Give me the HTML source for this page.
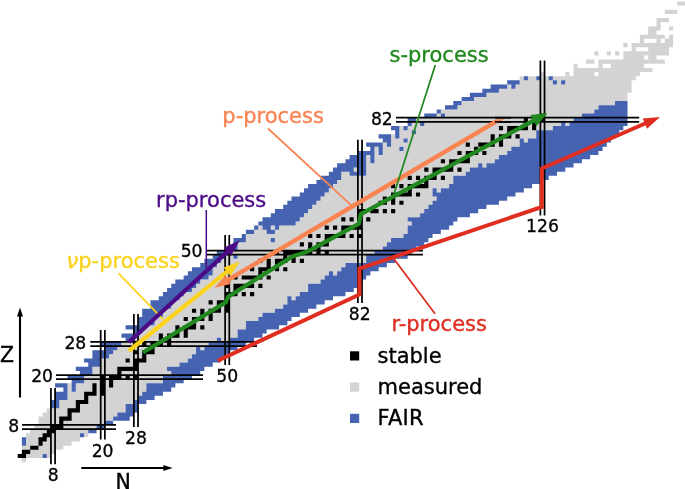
<!DOCTYPE html>
<html lang="en"><head><meta charset="utf-8"><title>Nuclide chart: nucleosynthesis processes</title>
<style>html,body{margin:0;padding:0;background:#fff}body{width:685px;height:489px;overflow:hidden}svg{display:block}text{font-family:"DejaVu Sans","Liberation Sans",sans-serif;}</style></head><body>
<svg width="685" height="489" viewBox="0 0 685 489">
<rect width="685" height="489" fill="#fff"/>
<g id="chart">
<path fill="#d3d3d3" d="M21.89 458.08H26.04V462.23H21.89ZM17.74 453.93H42.63V458.08H17.74ZM46.78 453.93H50.92V458.08H46.78ZM21.89 449.78H55.07V453.93H21.89ZM21.89 445.63H63.37V449.78H21.89ZM26.04 441.48H71.66V445.63H26.04ZM26.04 437.32H79.96V441.48H26.04ZM26.04 433.17H79.96V437.32H26.04ZM84.11 433.17H88.26V437.32H84.11ZM30.18 429.02H88.26V433.17H30.18ZM34.33 424.87H96.55V429.02H34.33ZM38.48 420.72H104.85V424.87H38.48ZM38.48 416.57H113.14V420.72H38.48ZM42.63 412.42H117.29V416.57H42.63ZM46.78 408.27H125.59V412.42H46.78ZM59.22 404.12H125.59V408.27H59.22ZM59.22 399.97H133.88V404.12H59.22ZM67.52 395.81H138.03V399.97H67.52ZM67.52 391.66H142.18V395.81H67.52ZM67.52 387.51H71.66V391.66H67.52ZM75.81 387.51H146.33V391.66H75.81ZM67.52 383.36H71.66V387.51H67.52ZM75.81 383.36H146.33V387.51H75.81ZM84.11 379.21H162.92V383.36H84.11ZM84.11 375.06H162.92V379.21H84.11ZM92.4 370.91H171.22V375.06H92.4ZM92.4 366.76H167.07V370.91H92.4ZM100.7 362.61H179.51V366.76H100.7ZM100.7 358.46H187.81V362.61H100.7ZM109 354.31H191.96V358.46H109ZM113.14 350.15H196.1V354.31H113.14ZM117.29 346H196.1V350.15H117.29ZM200.25 346H204.4V350.15H200.25ZM121.44 341.85H208.55V346H121.44ZM133.88 337.7H216.84V341.85H133.88ZM220.99 337.7H229.29V341.85H220.99ZM133.88 333.55H237.58V337.7H133.88ZM142.18 329.4H237.58V333.55H142.18ZM146.33 325.25H245.88V329.4H146.33ZM154.62 321.1H245.88V325.25H154.62ZM154.62 316.95H258.32V321.1H154.62ZM162.92 312.79H262.47V316.95H162.92ZM162.92 308.64H274.92V312.8H162.92ZM171.22 304.49H283.21V308.64H171.22ZM171.22 300.34H287.36V304.49H171.22ZM179.51 296.19H287.36V300.34H179.51ZM291.51 296.19H295.66V300.34H291.51ZM183.66 292.04H299.8V296.19H183.66ZM191.96 287.89H308.1V292.04H191.96ZM196.1 283.74H308.1V287.89H196.1ZM200.25 279.59H320.54V283.74H200.25ZM208.55 275.44H324.69V279.59H208.55ZM212.7 271.28H328.84V275.44H212.7ZM332.99 271.28H337.14V275.44H332.99ZM212.7 267.13H341.28V271.29H212.7ZM216.84 262.98H345.43V267.13H216.84ZM220.99 258.83H366.17V262.98H220.99ZM225.14 254.68H233.44V258.83H225.14ZM237.58 254.68H366.17V258.83H237.58ZM225.14 250.53H374.47V254.68H225.14ZM237.58 246.38H382.76V250.53H237.58ZM237.58 242.23H386.91V246.38H237.58ZM245.88 238.08H270.77V242.23H245.88ZM274.92 238.08H391.06V242.23H274.92ZM245.88 233.93H403.5V238.08H245.88ZM254.18 229.78H266.62V233.93H254.18ZM274.92 229.78H407.65V233.93H274.92ZM258.32 225.62H262.47V229.78H258.32ZM270.77 225.62H274.92V229.78H270.77ZM279.06 225.62H407.65V229.78H279.06ZM295.66 221.47H411.8V225.62H295.66ZM299.8 217.32H407.65V221.47H299.8ZM303.95 213.17H420.1V217.32H303.95ZM308.1 209.02H424.24V213.17H308.1ZM312.25 204.87H428.39V209.02H312.25ZM316.4 200.72H432.54V204.87H316.4ZM320.54 196.57H436.69V200.72H320.54ZM324.69 192.42H432.54V196.57H324.69ZM328.84 188.26H432.54V192.42H328.84ZM436.69 188.26H440.84V192.42H436.69ZM332.99 184.11H449.13V188.26H332.99ZM337.14 179.96H453.28V184.11H337.14ZM341.28 175.81H453.28V179.96H341.28ZM341.28 171.66H349.58V175.81H341.28ZM366.17 171.66H465.72V175.81H366.17ZM353.73 167.51H357.88V171.66H353.73ZM366.17 167.51H469.87V171.66H366.17ZM366.17 163.36H478.17V167.51H366.17ZM482.32 163.36H486.46V167.51H482.32ZM366.17 159.21H370.32V163.36H366.17ZM374.47 159.21H494.76V163.36H374.47ZM366.17 155.06H370.32V159.21H366.17ZM374.47 155.06H498.91V159.21H374.47ZM374.47 150.91H378.62V155.06H374.47ZM382.76 150.91H507.2V155.06H382.76ZM374.47 146.75H378.62V150.91H374.47ZM382.76 146.75H399.36V150.91H382.76ZM403.5 146.75H511.35V150.91H403.5ZM382.76 142.6H386.91V146.75H382.76ZM391.06 142.6H519.65V146.75H391.06ZM391.06 138.45H403.5V142.6H391.06ZM407.65 138.45H519.65V142.6H407.65ZM523.8 138.45H527.94V142.6H523.8ZM391.06 134.3H395.21V138.45H391.06ZM399.36 134.3H536.24V138.45H399.36ZM399.36 130.15H411.8V134.3H399.36ZM415.95 130.15H536.24V134.3H415.95ZM399.36 126H403.5V130.15H399.36ZM407.65 126H552.83V130.15H407.65ZM411.8 121.85H420.1V126H411.8ZM424.24 121.85H561.13V126H424.24ZM565.28 121.85H569.42V126H565.28ZM415.95 117.7H573.57V121.85H415.95ZM436.69 113.55H440.84V117.7H436.69ZM444.98 113.55H581.87V117.7H444.98ZM440.84 109.4H594.31V113.55H440.84ZM457.43 105.25H598.46V109.4H457.43ZM461.58 101.09H615.05V105.24H461.58ZM474.02 96.94H627.5V101.09H474.02ZM486.46 92.79H627.5V96.94H486.46ZM498.91 88.64H631.64V92.79H498.91ZM507.2 84.49H511.35V88.64H507.2ZM515.5 84.49H631.64V88.64H515.5ZM519.65 80.34H552.83V84.49H519.65ZM556.98 80.34H561.13V84.49H556.98ZM565.28 80.34H631.64V84.49H565.28ZM519.65 76.19H523.8V80.34H519.65ZM527.94 76.19H536.24V80.34H527.94ZM540.39 76.19H548.68V80.34H540.39ZM552.83 76.19H635.79V80.34H552.83ZM540.39 72.04H544.54V76.19H540.39ZM565.28 72.04H569.42V76.19H565.28ZM573.57 72.04H594.31V76.19H573.57ZM598.46 72.04H639.94V76.19H598.46ZM573.57 67.89H652.38V72.04H573.57ZM573.57 63.74H577.72V67.89H573.57ZM598.46 63.74H602.61V67.89H598.46ZM610.9 63.74H644.09V67.89H610.9ZM586.02 59.58H594.31V63.73H586.02ZM598.46 59.58H664.83V63.73H598.46ZM623.35 55.43H644.09V59.58H623.35ZM648.24 55.43H656.53V59.58H648.24ZM594.31 51.28H598.46V55.43H594.31ZM606.76 51.28H610.9V55.43H606.76ZM615.05 51.28H619.2V55.43H615.05ZM623.35 51.28H668.98V55.43H623.35ZM631.64 47.13H635.79V51.28H631.64ZM648.24 47.13H668.98V51.28H648.24ZM623.35 42.98H627.5V47.13H623.35ZM631.64 42.98H673.12V47.13H631.64ZM639.94 38.83H644.09V42.98H639.94ZM656.53 38.83H660.68V42.98H656.53ZM664.83 38.83H673.12V42.98H664.83ZM639.94 34.68H664.83V38.83H639.94ZM668.98 34.68H673.12V38.83H668.98ZM648.24 30.53H656.53V34.68H648.24ZM648.24 26.38H660.68V30.53H648.24ZM668.98 26.38H673.12V30.53H668.98ZM656.53 22.23H660.68V26.38H656.53ZM656.53 18.07H668.98V22.23H656.53ZM664.83 9.77H677.27V13.92H664.83ZM677.27 1.47H685.57V5.62H677.27Z"/>
<path fill="#4563b0" d="M42.63 453.93H46.78V458.08H42.63ZM21.89 441.48H26.04V445.63H21.89ZM21.89 437.32H26.04V441.48H21.89ZM79.96 433.17H84.11V437.32H79.96ZM88.26 429.02H96.55V433.17H88.26ZM96.55 424.87H104.85V429.02H96.55ZM104.85 420.72H113.14V424.87H104.85ZM113.14 416.57H129.74V420.72H113.14ZM117.29 412.42H133.88V416.57H117.29ZM125.59 408.27H138.03V412.42H125.59ZM50.92 404.12H59.22V408.27H50.92ZM125.59 404.12H138.03V408.27H125.59ZM50.92 399.97H59.22V404.12H50.92ZM133.88 399.97H146.33V404.12H133.88ZM55.07 395.81H67.52V399.97H55.07ZM138.03 395.81H154.62V399.97H138.03ZM55.07 391.66H67.52V395.81H55.07ZM142.18 391.66H162.92V395.81H142.18ZM63.37 387.51H67.52V391.66H63.37ZM71.66 387.51H75.81V391.66H71.66ZM146.33 387.51H171.22V391.66H146.33ZM55.07 383.36H67.52V387.51H55.07ZM71.66 383.36H75.81V387.51H71.66ZM146.33 383.36H175.36V387.51H146.33ZM71.66 379.21H84.11V383.36H71.66ZM162.92 379.21H183.66V383.36H162.92ZM67.52 375.06H84.11V379.21H67.52ZM162.92 375.06H191.96V379.21H162.92ZM79.96 370.91H92.4V375.06H79.96ZM171.22 370.91H200.25V375.06H171.22ZM75.81 366.76H92.4V370.91H75.81ZM167.07 366.76H204.4V370.91H167.07ZM88.26 362.61H100.7V366.76H88.26ZM179.51 362.61H212.7V366.76H179.51ZM84.11 358.46H100.7V362.61H84.11ZM187.81 358.46H220.99V362.61H187.81ZM92.4 354.31H109V358.46H92.4ZM191.96 354.31H225.14V358.46H191.96ZM92.4 350.15H113.14V354.31H92.4ZM196.1 350.15H229.29V354.31H196.1ZM104.85 346H117.29V350.15H104.85ZM196.1 346H200.25V350.15H196.1ZM204.4 346H237.58V350.15H204.4ZM100.7 341.85H121.44V346H100.7ZM208.55 341.85H245.88V346H208.55ZM125.59 337.7H133.88V341.85H125.59ZM216.84 337.7H220.99V341.85H216.84ZM229.29 337.7H254.18V341.85H229.29ZM121.44 333.55H133.88V337.7H121.44ZM237.58 333.55H262.47V337.7H237.58ZM133.88 329.4H142.18V333.55H133.88ZM237.58 329.4H266.62V333.55H237.58ZM125.59 325.25H146.33V329.4H125.59ZM245.88 325.25H279.06V329.4H245.88ZM138.03 321.1H154.62V325.25H138.03ZM245.88 321.1H287.36V325.25H245.88ZM138.03 316.95H154.62V321.1H138.03ZM258.32 316.95H291.51V321.1H258.32ZM142.18 312.79H162.92V316.95H142.18ZM262.47 312.79H299.8V316.95H262.47ZM142.18 308.64H162.92V312.8H142.18ZM274.92 308.64H308.1V312.8H274.92ZM150.48 304.49H171.22V308.64H150.48ZM283.21 304.49H316.4V308.64H283.21ZM150.48 300.34H171.22V304.49H150.48ZM287.36 300.34H324.69V304.49H287.36ZM158.77 296.19H179.51V300.34H158.77ZM287.36 296.19H291.51V300.34H287.36ZM295.66 296.19H332.99V300.34H295.66ZM162.92 292.04H183.66V296.19H162.92ZM299.8 292.04H345.43V296.19H299.8ZM167.07 287.89H191.96V292.04H167.07ZM308.1 287.89H353.73V292.04H308.1ZM171.22 283.74H196.1V287.89H171.22ZM308.1 283.74H357.88V287.89H308.1ZM175.36 279.59H200.25V283.74H175.36ZM320.54 279.59H362.02V283.74H320.54ZM183.66 275.44H208.55V279.59H183.66ZM324.69 275.44H366.17V279.59H324.69ZM187.81 271.28H212.7V275.44H187.81ZM328.84 271.28H332.99V275.44H328.84ZM337.14 271.28H370.32V275.44H337.14ZM191.96 267.13H212.7V271.29H191.96ZM341.28 267.13H378.62V271.29H341.28ZM200.25 262.98H216.84V267.13H200.25ZM345.43 262.98H386.91V267.13H345.43ZM204.4 258.83H220.99V262.98H204.4ZM366.17 258.83H395.21V262.98H366.17ZM212.7 254.68H225.14V258.83H212.7ZM233.44 254.68H237.58V258.83H233.44ZM366.17 254.68H407.65V258.83H366.17ZM216.84 250.53H225.14V254.68H216.84ZM374.47 250.53H411.8V254.68H374.47ZM229.29 246.38H237.58V250.53H229.29ZM382.76 246.38H415.95V250.53H382.76ZM233.44 242.23H237.58V246.38H233.44ZM386.91 242.23H424.24V246.38H386.91ZM233.44 238.08H245.88V242.23H233.44ZM270.77 238.08H274.92V242.23H270.77ZM391.06 238.08H428.39V242.23H391.06ZM241.73 233.93H245.88V238.08H241.73ZM403.5 233.93H432.54V238.08H403.5ZM245.88 229.78H254.18V233.93H245.88ZM266.62 229.78H274.92V233.93H266.62ZM407.65 229.78H440.84V233.93H407.65ZM254.18 225.62H258.32V229.78H254.18ZM262.47 225.62H270.77V229.78H262.47ZM274.92 225.62H279.06V229.78H274.92ZM407.65 225.62H449.13V229.78H407.65ZM258.32 221.47H295.66V225.62H258.32ZM411.8 221.47H453.28V225.62H411.8ZM262.47 217.32H299.8V221.47H262.47ZM407.65 217.32H457.43V221.47H407.65ZM270.77 213.17H303.95V217.32H270.77ZM420.1 213.17H469.87V217.32H420.1ZM274.92 209.02H308.1V213.17H274.92ZM424.24 209.02H478.17V213.17H424.24ZM283.21 204.87H312.25V209.02H283.21ZM428.39 204.87H486.46V209.02H428.39ZM287.36 200.72H316.4V204.87H287.36ZM432.54 200.72H498.91V204.87H432.54ZM291.51 196.57H320.54V200.72H291.51ZM436.69 196.57H507.2V200.72H436.69ZM299.8 192.42H324.69V196.57H299.8ZM432.54 192.42H515.5V196.57H432.54ZM303.95 188.26H328.84V192.42H303.95ZM432.54 188.26H436.69V192.42H432.54ZM440.84 188.26H523.8V192.42H440.84ZM308.1 184.11H332.99V188.26H308.1ZM449.13 184.11H532.09V188.26H449.13ZM316.4 179.96H337.14V184.11H316.4ZM453.28 179.96H540.39V184.11H453.28ZM320.54 175.81H341.28V179.96H320.54ZM453.28 175.81H548.68V179.96H453.28ZM328.84 171.66H341.28V175.81H328.84ZM349.58 171.66H366.17V175.81H349.58ZM465.72 171.66H556.98V175.81H465.72ZM332.99 167.51H353.73V171.66H332.99ZM357.88 167.51H366.17V171.66H357.88ZM469.87 167.51H565.28V171.66H469.87ZM337.14 163.36H366.17V167.51H337.14ZM478.17 163.36H482.32V167.51H478.17ZM486.46 163.36H573.57V167.51H486.46ZM345.43 159.21H366.17V163.36H345.43ZM370.32 159.21H374.47V163.36H370.32ZM494.76 159.21H581.87V163.36H494.76ZM349.58 155.06H366.17V159.21H349.58ZM370.32 155.06H374.47V159.21H370.32ZM498.91 155.06H590.16V159.21H498.91ZM357.88 150.91H374.47V155.06H357.88ZM378.62 150.91H382.76V155.06H378.62ZM507.2 150.91H598.46V155.06H507.2ZM370.32 146.75H374.47V150.91H370.32ZM378.62 146.75H382.76V150.91H378.62ZM399.36 146.75H403.5V150.91H399.36ZM511.35 146.75H602.61V150.91H511.35ZM366.17 142.6H382.76V146.75H366.17ZM386.91 142.6H391.06V146.75H386.91ZM519.65 142.6H606.76V146.75H519.65ZM382.76 138.45H391.06V142.6H382.76ZM403.5 138.45H407.65V142.6H403.5ZM519.65 138.45H523.8V142.6H519.65ZM527.94 138.45H610.9V142.6H527.94ZM378.62 134.3H391.06V138.45H378.62ZM395.21 134.3H399.36V138.45H395.21ZM536.24 134.3H615.05V138.45H536.24ZM395.21 130.15H399.36V134.3H395.21ZM411.8 130.15H415.95V134.3H411.8ZM536.24 130.15H619.2V134.3H536.24ZM391.06 126H399.36V130.15H391.06ZM403.5 126H407.65V130.15H403.5ZM552.83 126H623.35V130.15H552.83ZM407.65 121.85H411.8V126H407.65ZM420.1 121.85H424.24V126H420.1ZM561.13 121.85H565.28V126H561.13ZM569.42 121.85H627.5V126H569.42ZM407.65 117.7H415.95V121.85H407.65ZM573.57 117.7H627.5V121.85H573.57ZM424.24 113.55H436.69V117.7H424.24ZM440.84 113.55H444.98V117.7H440.84ZM581.87 113.55H627.5V117.7H581.87ZM436.69 109.4H440.84V113.55H436.69ZM594.31 109.4H627.5V113.55H594.31ZM444.98 105.25H457.43V109.4H444.98ZM598.46 105.25H627.5V109.4H598.46ZM453.28 101.09H461.58V105.24H453.28ZM615.05 101.09H627.5V105.24H615.05ZM461.58 96.94H474.02V101.09H461.58ZM469.87 92.79H486.46V96.94H469.87ZM482.32 88.64H498.91V92.79H482.32ZM490.61 84.49H507.2V88.64H490.61ZM511.35 84.49H515.5V88.64H511.35ZM507.2 80.34H519.65V84.49H507.2ZM552.83 80.34H556.98V84.49H552.83ZM561.13 80.34H565.28V84.49H561.13ZM523.8 76.19H527.94V80.34H523.8ZM536.24 76.19H540.39V80.34H536.24ZM548.68 76.19H552.83V80.34H548.68Z"/>
<path fill="#000" d="M17.74 453.93H26.04V458.08H17.74ZM21.89 449.78H30.18V453.93H21.89ZM30.18 445.63H38.48V449.78H30.18ZM38.48 441.48H42.63V445.63H38.48ZM38.48 437.32H46.78V441.48H38.48ZM42.63 433.17H50.92V437.32H42.63ZM46.78 429.02H55.07V433.17H46.78ZM50.92 424.87H63.37V429.02H50.92ZM59.22 420.72H63.37V424.87H59.22ZM59.22 416.57H71.66V420.72H59.22ZM67.52 412.42H71.66V416.57H67.52ZM67.52 408.27H79.96V412.42H67.52ZM75.81 404.12H79.96V408.27H75.81ZM75.81 399.97H88.26V404.12H75.81ZM84.11 395.81H88.26V399.97H84.11ZM84.11 391.66H96.55V395.81H84.11ZM100.7 391.66H104.85V395.81H100.7ZM92.4 387.51H96.55V391.66H92.4ZM100.7 387.51H104.85V391.66H100.7ZM92.4 383.36H96.55V387.51H92.4ZM100.7 383.36H104.85V387.51H100.7ZM109 383.36H113.14V387.51H109ZM100.7 379.21H104.85V383.36H100.7ZM109 379.21H113.14V383.36H109ZM100.7 375.06H104.85V379.21H100.7ZM109 375.06H121.44V379.21H109ZM125.59 375.06H129.74V379.21H125.59ZM133.88 375.06H138.03V379.21H133.88ZM117.29 370.91H121.44V375.06H117.29ZM117.29 366.76H138.03V370.91H117.29ZM133.88 362.61H138.03V366.76H133.88ZM125.59 358.46H129.74V362.61H125.59ZM133.88 358.46H146.33V362.61H133.88ZM142.18 354.31H146.33V358.46H142.18ZM133.88 350.15H138.03V354.31H133.88ZM142.18 350.15H154.62V354.31H142.18ZM150.48 346H154.62V350.15H150.48ZM142.18 341.85H146.33V346H142.18ZM150.48 341.85H162.92V346H150.48ZM167.07 341.85H171.22V346H167.07ZM158.77 337.7H162.92V341.85H158.77ZM167.07 337.7H171.22V341.85H167.07ZM158.77 333.55H162.92V337.7H158.77ZM167.07 333.55H179.51V337.7H167.07ZM183.66 333.55H187.81V337.7H183.66ZM175.36 329.4H179.51V333.55H175.36ZM183.66 329.4H187.81V333.55H183.66ZM175.36 325.25H179.51V329.4H175.36ZM183.66 325.25H196.1V329.4H183.66ZM200.25 325.25H204.4V329.4H200.25ZM191.96 321.1H196.1V325.25H191.96ZM183.66 316.95H187.81V321.1H183.66ZM191.96 316.95H204.4V321.1H191.96ZM208.55 316.95H212.7V321.1H208.55ZM200.25 312.79H204.4V316.95H200.25ZM208.55 312.79H212.7V316.95H208.55ZM191.96 308.64H196.1V312.8H191.96ZM200.25 308.64H204.4V312.8H200.25ZM208.55 308.64H220.99V312.8H208.55ZM225.14 308.64H229.29V312.8H225.14ZM216.84 304.49H220.99V308.64H216.84ZM225.14 304.49H229.29V308.64H225.14ZM208.55 300.34H212.7V304.49H208.55ZM216.84 300.34H229.29V304.49H216.84ZM225.14 296.19H229.29V300.34H225.14ZM225.14 292.04H237.58V296.19H225.14ZM241.73 292.04H245.88V296.19H241.73ZM250.03 292.04H254.18V296.19H250.03ZM233.44 287.89H237.58V292.04H233.44ZM225.14 283.74H229.29V287.89H225.14ZM233.44 283.74H254.18V287.89H233.44ZM258.32 283.74H262.47V287.89H258.32ZM233.44 275.44H237.58V279.59H233.44ZM241.73 275.44H262.47V279.59H241.73ZM266.62 275.44H270.77V279.59H266.62ZM258.32 271.28H262.47V275.44H258.32ZM250.03 267.13H254.18V271.29H250.03ZM258.32 267.13H270.77V271.29H258.32ZM274.92 267.13H279.06V271.29H274.92ZM283.21 267.13H287.36V271.29H283.21ZM266.62 262.98H270.77V267.13H266.62ZM274.92 262.98H279.06V267.13H274.92ZM258.32 258.83H262.47V262.98H258.32ZM266.62 258.83H270.77V262.98H266.62ZM274.92 258.83H287.36V262.98H274.92ZM291.51 258.83H295.66V262.98H291.51ZM299.8 258.83H303.95V262.98H299.8ZM283.21 254.68H287.36V258.83H283.21ZM291.51 254.68H295.66V258.83H291.51ZM274.92 250.53H279.06V254.68H274.92ZM283.21 250.53H312.25V254.68H283.21ZM316.4 250.53H320.54V254.68H316.4ZM324.69 250.53H328.84V254.68H324.69ZM308.1 246.38H312.25V250.53H308.1ZM316.4 246.38H320.54V250.53H316.4ZM299.8 242.23H303.95V246.38H299.8ZM308.1 242.23H312.25V246.38H308.1ZM316.4 242.23H328.84V246.38H316.4ZM324.69 238.08H328.84V242.23H324.69ZM308.1 233.93H312.25V238.08H308.1ZM316.4 233.93H320.54V238.08H316.4ZM324.69 233.93H345.43V238.08H324.69ZM349.58 233.93H353.73V238.08H349.58ZM357.88 233.93H362.02V238.08H357.88ZM341.28 229.78H345.43V233.93H341.28ZM324.69 225.62H328.84V229.78H324.69ZM332.99 225.62H337.14V229.78H332.99ZM341.28 225.62H362.02V229.78H341.28ZM357.88 221.47H362.02V225.62H357.88ZM341.28 217.32H345.43V221.47H341.28ZM349.58 217.32H353.73V221.47H349.58ZM357.88 217.32H362.02V221.47H357.88ZM366.17 217.32H370.32V221.47H366.17ZM357.88 213.17H362.02V217.32H357.88ZM357.88 209.02H366.17V213.17H357.88ZM370.32 209.02H378.62V213.17H370.32ZM382.76 209.02H386.91V213.17H382.76ZM391.06 209.02H395.21V213.17H391.06ZM357.88 200.72H362.02V204.87H357.88ZM378.62 200.72H386.91V204.87H378.62ZM391.06 200.72H395.21V204.87H391.06ZM399.36 200.72H403.5V204.87H399.36ZM382.76 196.57H386.91V200.72H382.76ZM391.06 196.57H395.21V200.72H391.06ZM391.06 192.42H411.8V196.57H391.06ZM415.95 192.42H420.1V196.57H415.95ZM407.65 188.26H411.8V192.42H407.65ZM391.06 184.11H395.21V188.26H391.06ZM399.36 184.11H403.5V188.26H399.36ZM407.65 184.11H428.39V188.26H407.65ZM424.24 179.96H428.39V184.11H424.24ZM407.65 175.81H411.8V179.96H407.65ZM415.95 175.81H420.1V179.96H415.95ZM424.24 175.81H436.69V179.96H424.24ZM440.84 175.81H444.98V179.96H440.84ZM432.54 171.66H436.69V175.81H432.54ZM424.24 167.51H428.39V171.66H424.24ZM432.54 167.51H453.28V171.66H432.54ZM457.43 167.51H461.58V171.66H457.43ZM449.13 163.36H453.28V167.51H449.13ZM440.84 159.21H444.98V163.36H440.84ZM449.13 159.21H469.87V163.36H449.13ZM465.72 155.06H469.87V159.21H465.72ZM457.43 150.91H461.58V155.06H457.43ZM465.72 150.91H478.17V155.06H465.72ZM482.32 150.91H486.46V155.06H482.32ZM474.02 146.75H478.17V150.91H474.02ZM465.72 142.6H469.87V146.75H465.72ZM478.17 142.6H494.76V146.75H478.17ZM498.91 142.6H503.06V146.75H498.91ZM490.61 138.45H494.76V142.6H490.61ZM498.91 138.45H503.06V142.6H498.91ZM490.61 134.3H494.76V138.45H490.61ZM498.91 134.3H511.35V138.45H498.91ZM515.5 134.3H519.65V138.45H515.5ZM507.2 130.15H511.35V134.3H507.2ZM498.91 126H503.06V130.15H498.91ZM507.2 126H527.94V130.15H507.2ZM532.09 126H536.24V130.15H532.09ZM523.8 121.85H527.94V126H523.8ZM532.09 121.85H536.24V126H532.09ZM523.8 117.7H527.94V121.85H523.8ZM532.09 117.7H544.54V121.85H532.09ZM540.39 113.55H544.54V117.7H540.39Z"/>
</g>
<g id="magic" stroke="#000" stroke-width="1.75" fill="none">
<line x1="50.92" y1="388" x2="50.92" y2="464.3"/><line x1="55.07" y1="388" x2="55.07" y2="464.3"/>
<line x1="100.7" y1="330" x2="100.7" y2="439.5"/><line x1="104.85" y1="330" x2="104.85" y2="439.5"/>
<line x1="133.88" y1="314" x2="133.88" y2="426.9"/><line x1="138.03" y1="314" x2="138.03" y2="426.9"/>
<line x1="225.14" y1="235" x2="225.14" y2="365"/><line x1="229.29" y1="235" x2="229.29" y2="365"/>
<line x1="357.88" y1="139.7" x2="357.88" y2="303"/><line x1="362.02" y1="139.7" x2="362.02" y2="303"/>
<line x1="540.39" y1="60.5" x2="540.39" y2="215.5"/><line x1="544.54" y1="60.5" x2="544.54" y2="215.5"/>
<line x1="22" y1="424.87" x2="116" y2="424.87"/><line x1="22" y1="429.02" x2="116" y2="429.02"/>
<line x1="56" y1="375.06" x2="203" y2="375.06"/><line x1="56" y1="379.21" x2="203" y2="379.21"/>
<line x1="90.3" y1="341.85" x2="257" y2="341.85"/><line x1="90.3" y1="346" x2="257" y2="346"/>
<line x1="206.6" y1="250.53" x2="423" y2="250.53"/><line x1="206.6" y1="254.68" x2="423" y2="254.68"/>
<line x1="396" y1="117.7" x2="639.2" y2="117.7"/><line x1="396" y1="121.85" x2="639.2" y2="121.85"/>
</g>
<g id="magic-labels" font-size="17.2" fill="#000" stroke="#000" stroke-width="0.3">
<text x="19.3" y="431.8" text-anchor="end">8</text>
<text x="53" y="381.8" text-anchor="end">20</text>
<text x="86.3" y="348.8" text-anchor="end">28</text>
<text x="202.5" y="257.3" text-anchor="end">50</text>
<text x="392.8" y="124.5" text-anchor="end">82</text>
<text x="53.2" y="481" text-anchor="middle">8</text>
<text x="102.6" y="456.8" text-anchor="middle">20</text>
<text x="136" y="443.6" text-anchor="middle">28</text>
<text x="227.3" y="382" text-anchor="middle">50</text>
<text x="359.8" y="319.5" text-anchor="middle">82</text>
<text x="542.5" y="232.4" text-anchor="middle">126</text>
</g>
<g id="processes">
<line x1="118.5" y1="273.3" x2="163.1" y2="319.3" stroke="#fcd21c" stroke-width="1.75" fill="none"/>
<path d="M128.8 351 L229.53 269.69" fill="none" stroke="#fcd21c" stroke-width="4.2" stroke-linecap="butt" stroke-linejoin="miter"/><polygon points="239.8,261.4 230.35,275.97 223.57,267.56" fill="#fcd21c"/>
<line x1="206.3" y1="210" x2="206.3" y2="268" stroke="#4b0a86" stroke-width="1.5" fill="none"/>
<path d="M128.8 342.2 L229.84 249.44" fill="none" stroke="#4b0a86" stroke-width="4.2" stroke-linecap="butt" stroke-linejoin="miter"/><polygon points="239.8,240.3 231,255.71 223.7,247.75" fill="#4b0a86"/>
<line x1="268" y1="128.5" x2="350.8" y2="204.9" stroke="#fa8352" stroke-width="1.75" fill="none"/>
<clipPath id="pclip"><rect x="0" y="119.2" width="685" height="400"/></clipPath>
<g clip-path="url(#pclip)"><path d="M508.3 114.3 L225.52 281.29" fill="none" stroke="#fa8352" stroke-width="4.4" stroke-linecap="butt" stroke-linejoin="miter"/><polygon points="214.5,287.8 225.73,275.36 230.82,283.97" fill="#fa8352"/></g>
<g stroke="#000" stroke-width="1.75"><line x1="495" y1="117.7" x2="511" y2="117.7"/><line x1="495" y1="121.85" x2="511" y2="121.85"/></g>
<line x1="435.3" y1="65" x2="393.7" y2="195" stroke="#21891f" stroke-width="1.75" fill="none"/>
<path d="M143 352.5 L225.8 302.4 L228.3 296.6 L292.4 256.4 L306.5 252 L358.7 223.9 L360.8 214.2 L536.25 119.1" fill="none" stroke="#21891f" stroke-width="4.2" stroke-linecap="butt" stroke-linejoin="miter"/><polygon points="547.5,113 536.53,126.34 530.34,114.91" fill="#21891f"/>
<line x1="393.8" y1="258.8" x2="435" y2="313.8" stroke="#df2d20" stroke-width="1.75" fill="none"/>
<path d="M217.7 360.7 L359.4 294.5 L359.4 268.6 L541.8 207 L541.8 168.5 L647.9 122.27" fill="none" stroke="#df2d20" stroke-width="4.0" stroke-linecap="butt" stroke-linejoin="miter"/><polygon points="660,117 647.07,128.63 642.68,118.55" fill="#df2d20"/>
</g>
<g id="labels" font-size="21" stroke-width="0.35">
<text x="389.5" y="61.5" fill="#21891f" stroke="#21891f">s-process</text>
<text x="222.3" y="123.4" fill="#fa8352" stroke="#fa8352">p-process</text>
<text x="156" y="206.9" fill="#4b0a86" stroke="#4b0a86">rp-process</text>
<text x="66.5" y="268" fill="#fcd21c" stroke="#fcd21c"><tspan font-style="italic">ν</tspan>p-process</text>
<text x="391.4" y="330.5" fill="#df2d20" stroke="#df2d20">r-process</text>
</g>
<g id="legend" font-size="21" fill="#000" stroke="#000" stroke-width="0.35">
<rect x="350" y="351.3" width="9.2" height="9.2" fill="#000" stroke="none"/><text x="377.5" y="362.5">stable</text>
<rect x="350" y="382.5" width="9.2" height="9.2" fill="#d3d3d3" stroke="none"/><text x="377.5" y="393.8">measured</text>
<rect x="350" y="413.8" width="9.2" height="9.2" fill="#4563b0" stroke="none"/><text x="377.5" y="424.8" letter-spacing="0.25">FAIR</text>
</g>
<g id="axes" font-size="20.5" fill="#000">
<text x="0" y="361.6" stroke="#000" stroke-width="0.35">Z</text>
<text x="115.6" y="488.6" stroke="#000" stroke-width="0.35">N</text>
<path d="M20 397.5V314" stroke="#000" stroke-width="2.1" fill="none"/><polygon points="20,307.5 23,316.5 17,316.5"/>
<path d="M81.3 468H165" stroke="#000" stroke-width="2.1" fill="none"/><polygon points="172.6,468 163.3,465 163.3,471"/>
</g>
</svg></body></html>
